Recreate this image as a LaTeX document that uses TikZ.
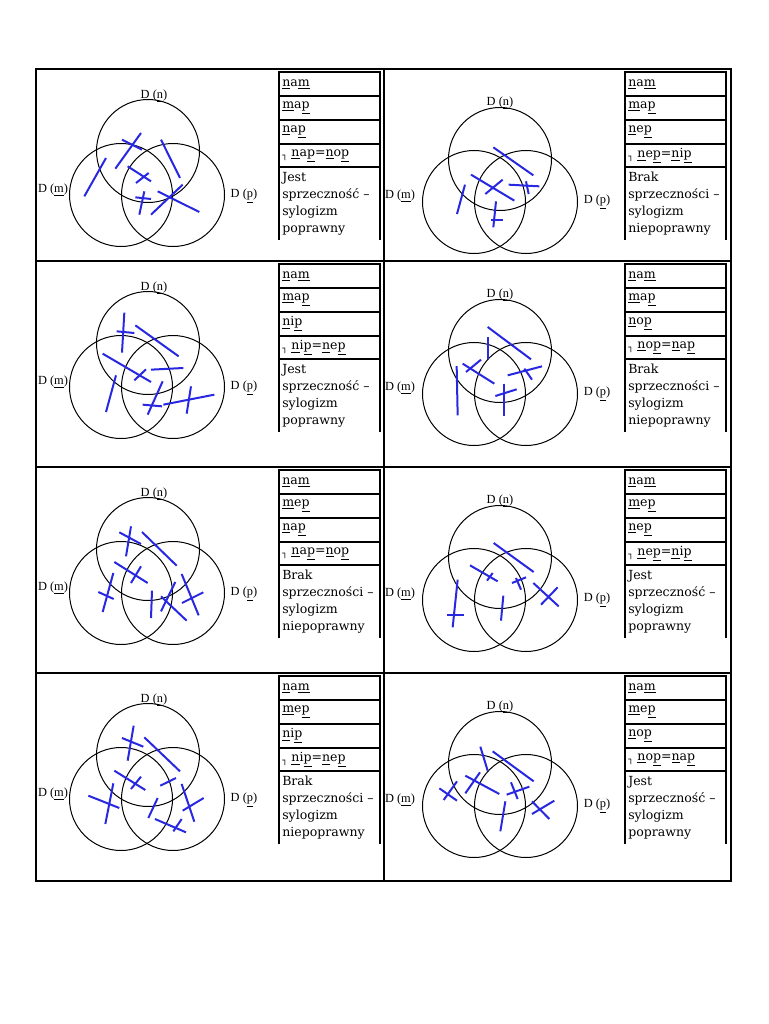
\documentclass[tikz,border=0pt]{standalone}
\usepackage{fontspec}
\setmainfont{DejaVu Serif}
\newfontfamily\lblfont{Liberation Serif}
\definecolor{penblue}{RGB}{40,40,225}
\newcommand\ulx[1]{\underline{#1}}
\tikzset{
  frame/.style={line width=0.8pt},
  circ/.style={line width=0.75pt},
  bl/.style={penblue,line width=1.5pt},
  tbox/.style={line width=1.1pt},
  celltxt/.style={anchor=west,font=\fontsize{9.4}{12.75}\selectfont,inner sep=0pt},
  bodytxt/.style={anchor=north west,align=left,font=\fontsize{9.4}{12.75}\selectfont,inner sep=0pt},
  dlbl/.style={font=\lblfont\fontsize{9.3}{10}\selectfont,inner sep=0pt}
}
\newcommand\vennL[3]{%
 \begin{scope}[shift={(#2,#3)}]
  \draw[circ] (112,83) circle[radius=51.5];
  \draw[circ] (85,127) circle[radius=51.5];
  \draw[circ] (137,127) circle[radius=51.5];
  \node[dlbl] (#1n) at (118,28) {D (\ulx{n})};
  \node[dlbl] (#1m) at (17,122) {D (\ulx{m})};
  \node[dlbl] (#1p) at (208,128) {D (\ulx{p})};
 \end{scope}}
\newcommand\vennR[3]{%
 \begin{scope}[shift={(#2,#3)}]
  \draw[circ] (114,91) circle[radius=51.5];
  \draw[circ] (88,134) circle[radius=51.5];
  \draw[circ] (140,134) circle[radius=51.5];
  \node[dlbl] (#1n) at (114,35) {D (\ulx{n})};
  \node[dlbl] (#1m) at (14,128) {D (\ulx{m})};
  \node[dlbl] (#1p) at (211,134) {D (\ulx{p})};
 \end{scope}}
% #1 name #2 x #3 Y #4-#7 rows #8 body
\newcommand\tbl[8]{%
 \draw[tbox] (#2,#3+240-69) -- (#2,#3+3) -- (#2+101,#3+3) -- (#2+101,#3+240-69);
 \foreach \yy in {27,51,75,98} \draw[tbox] (#2,#3+\yy) -- (#2+101,#3+\yy);
 \node[celltxt] (#1a) at (#2+3,#3+15) {#4};
 \node[celltxt] (#1b) at (#2+3,#3+39) {#5};
 \node[celltxt] (#1c) at (#2+3,#3+63) {#6};
 \node[celltxt] (#1d) at (#2+3,#3+87) {#7};
 \node[bodytxt] (#1e) at (#2+3,#3+103) {#8};}
\newcommand\negx{\raisebox{-1.5pt}{\fontsize{6.5}{6.5}\selectfont┐}\ }
\newcommand\jest{Jest\\sprzeczność –\\sylogizm\\poprawny}
\newcommand\brak{Brak\\sprzeczności –\\sylogizm\\niepoprawny}
\begin{document}
\begin{tikzpicture}[x=0.75pt,y=-0.75pt]
\useasboundingbox (0,0) rectangle (768,1024);
\draw[frame] (36,69) rectangle (731,881);
\draw[frame] (384,69) -- (384,881);
\foreach \yy in {261,467,673} \draw[frame] (36,\yy) -- (731,\yy);
% Venns
\vennL{v1}{36}{68}  \vennR{v2}{386}{68}
\vennL{v3}{36}{260} \vennR{v4}{386}{260}
\vennL{v5}{36}{466} \vennR{v6}{386}{466}
\vennL{v7}{36}{672} \vennR{v8}{386}{672}
% Lines
\begin{scope}[shift={(36,68)},scale=1/3]
\foreach \a/\b/\c/\d in {238/302/315/195,258/215/318/245,145/385/210/270,375/215/432/330,275/295/345/340,300/345/338/315,325/370/310/440,298/388/345/393,345/440/440/350,365/370/490/432}
 \draw[bl] (\a,\b) -- (\c,\d);
\end{scope}
\begin{scope}[shift={(386,68)},scale=1/3]
\foreach \a/\b/\c/\d in {322/238/442/322,255/320/385/398,298/378/350/335,368/350/460/355,420/340/428/378,237/350/213/438,330/400/322/478,315/455/352/455}
 \draw[bl] (\a,\b) -- (\c,\d);
\end{scope}
\begin{scope}[shift={(36,262)},scale=1/3]
\foreach \a/\b/\c/\d in {265/152/258/272,242/208/295/213,298/190/428/283,200/275/345/360,295/355/330/322,345/323/442/318,240/340/210/450,380/358/335/458,320/428/378/433,382/428/535/398,465/373/452/455}
 \draw[bl] (\a,\b) -- (\c,\d);
\end{scope}
\begin{scope}[shift={(386,262)},scale=1/3]
\foreach \a/\b/\c/\d in {305/195/435/292,305/225/305/290,230/305/325/365,240/330/285/293,212/312/215/460,365/340/468/313,415/320/438/353,328/402/392/382,355/365/355/462}
 \draw[bl] (\a,\b) -- (\c,\d);
\end{scope}
\begin{scope}[shift={(36,468)},scale=1/3]
\foreach \a/\b/\c/\d in {285/175/270/265,250/193/315/228,318/192/422/293,235/282/335/345,285/345/315/295,232/315/200/432,187/372/233/393,348/368/345/450,418/342/375/430,375/385/452/458,437/318/488/442,438/405/502/373}
 \draw[bl] (\a,\b) -- (\c,\d);
\end{scope}
\begin{scope}[shift={(386,468)},scale=1/3]
\foreach \a/\b/\c/\d in {323/225/443/312,252/292/335/340,303/338/320/315,378/345/420/328,390/330/405/365,442/345/518/415,465/410/515/358,215/335/200/478,183/440/235/440,352/383/345/458}
 \draw[bl] (\a,\b) -- (\c,\d);
\end{scope}
\begin{scope}[shift={(36,674)},scale=1/3]
\foreach \a/\b/\c/\d in {293/155/275/260,258/192/322/218,325/190/432/292,235/290/328/348,285/345/315/308,373/335/420/312,232/328/208/450,157/365/250/402,365/372/337/432,357/435/450/475,412/472/437/435,437/330/475/443,440/410/503/372}
 \draw[bl] (\a,\b) -- (\c,\d);
\end{scope}
\begin{scope}[shift={(386,674)},scale=1/3]
\foreach \a/\b/\c/\d in {283/218/305/290,320/232/443/322,238/305/340/360,238/358/282/295,160/343/213/380,173/378/213/322,362/362/430/338,375/325/395/375,358/382/343/472,438/382/490/435,438/420/505/380}
 \draw[bl] (\a,\b) -- (\c,\d);
\end{scope}
% Tables
\tbl{t1}{279}{69}{\ulx{n}a\ulx{m}}{\ulx{m}a\ulx{p}}{\ulx{n}a\ulx{p}}{\negx\ulx{n}a\ulx{p}=\ulx{n}o\ulx{p}}{\jest}
\tbl{t2}{625}{69}{\ulx{n}a\ulx{m}}{\ulx{m}a\ulx{p}}{\ulx{n}e\ulx{p}}{\negx\ulx{n}e\ulx{p}=\ulx{n}i\ulx{p}}{\brak}
\tbl{t3}{279}{261}{\ulx{n}a\ulx{m}}{\ulx{m}a\ulx{p}}{\ulx{n}i\ulx{p}}{\negx\ulx{n}i\ulx{p}=\ulx{n}e\ulx{p}}{\jest}
\tbl{t4}{625}{261}{\ulx{n}a\ulx{m}}{\ulx{m}a\ulx{p}}{\ulx{n}o\ulx{p}}{\negx\ulx{n}o\ulx{p}=\ulx{n}a\ulx{p}}{\brak}
\tbl{t5}{279}{467}{\ulx{n}a\ulx{m}}{\ulx{m}e\ulx{p}}{\ulx{n}a\ulx{p}}{\negx\ulx{n}a\ulx{p}=\ulx{n}o\ulx{p}}{\brak}
\tbl{t6}{625}{467}{\ulx{n}a\ulx{m}}{\ulx{m}e\ulx{p}}{\ulx{n}e\ulx{p}}{\negx\ulx{n}e\ulx{p}=\ulx{n}i\ulx{p}}{\jest}
\tbl{t7}{279}{673}{\ulx{n}a\ulx{m}}{\ulx{m}e\ulx{p}}{\ulx{n}i\ulx{p}}{\negx\ulx{n}i\ulx{p}=\ulx{n}e\ulx{p}}{\brak}
\tbl{t8}{625}{673}{\ulx{n}a\ulx{m}}{\ulx{m}e\ulx{p}}{\ulx{n}o\ulx{p}}{\negx\ulx{n}o\ulx{p}=\ulx{n}a\ulx{p}}{\jest}
\end{tikzpicture}
\end{document}
